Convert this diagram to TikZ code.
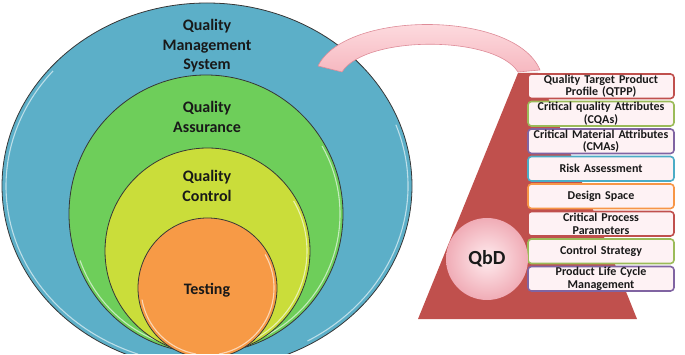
\documentclass[tikz,border=0pt]{standalone}
\usepackage{fontspec}
\setmainfont{Carlito}
\definecolor{qblue}{RGB}{92,175,200}
\definecolor{qgreen}{RGB}{110,206,90}
\definecolor{qyellow}{RGB}{202,221,58}
\definecolor{qorange}{RGB}{247,154,70}
\definecolor{qline}{RGB}{55,55,55}
\definecolor{txt}{RGB}{25,25,25}
\definecolor{qred}{RGB}{192,80,77}
\definecolor{qolive}{RGB}{155,187,89}
\definecolor{qpurple}{RGB}{128,100,162}
\definecolor{qcyan}{RGB}{75,172,198}
\definecolor{qorng}{RGB}{247,150,70}
\definecolor{boxfill}{RGB}{254,242,244}
\definecolor{pinklight}{RGB}{255,228,231}
\definecolor{pinkdark}{RGB}{246,184,192}
\definecolor{pinkedge}{RGB}{222,140,152}
\begin{document}
\begin{tikzpicture}[x=1pt,y=-1pt,
  ring/.style={draw=qline, line width=0.8pt},
  gloss/.style={draw=white, line width=1.1pt, opacity=0.6},
  circtext/.style={font=\bfseries\fontsize{16}{19.5}\selectfont, align=center, text=txt},
  qbox/.style={draw=#1, line width=1.6pt, rounded corners=3.5pt, fill=boxfill,
    minimum width=146pt, minimum height=24.5pt, inner sep=0pt, text width=146pt,
    align=center, text=txt, font=\bfseries\fontsize{12}{12.5}\selectfont}]
\useasboundingbox (0,0) rectangle (685,355);
\begin{scope}
\clip (0,0) rectangle (685,353);
% nested shapes
\fill[qblue, ring] (207,186) ellipse [x radius=205pt, y radius=183pt];
\draw[gloss] (207,186) ++(140:201pt and 179pt) arc[start angle=140, end angle=250, x radius=201pt, y radius=179pt];
\draw[gloss] (207,186) ++(-60:201pt and 179pt) arc[start angle=-60, end angle=20, x radius=201pt, y radius=179pt];
\fill[qgreen, ring] (206,214) ellipse [x radius=137pt, y radius=139pt];
\draw[gloss] (206,214) ++(-75:134pt and 136pt) arc[start angle=-75, end angle=30, x radius=134pt, y radius=136pt];
\draw[gloss] (206,214) ++(200:134pt and 136pt) arc[start angle=200, end angle=250, x radius=134pt, y radius=136pt];
\fill[qyellow, ring] (207.5,251) ellipse [x radius=102.5pt, y radius=103pt];
\draw[gloss] (207.5,251) ++(-75:99.5pt and 100pt) arc[start angle=-75, end angle=30, x radius=99.5pt, y radius=100pt];
\fill[qorange, ring] (207.5,288) ellipse [x radius=69.5pt, y radius=70pt];
\draw[gloss] (207.5,288) ++(-80:66.5pt and 67pt) arc[start angle=-80, end angle=30, x radius=66.5pt, y radius=67pt];
\draw[gloss] (207.5,288) ++(190:66.5pt and 67pt) arc[start angle=190, end angle=260, x radius=66.5pt, y radius=67pt];
\end{scope}
\node[circtext] (qms) at (207,46) {Quality\\Management\\System};
\node[circtext] (qa) at (207,117) {Quality\\Assurance};
\node[circtext] (qc) at (207,186) {Quality\\Control};
\node[circtext] (test) at (207,290) {Testing};
% triangle
\fill[qred] (518,73) -- (538,73) -- (637,319) -- (418,319) -- cycle;
% pink arch
\path[top color=pinklight, bottom color=pinkdark, draw=pinkedge, line width=0.6pt]
  (318,66) .. controls (345,10) and (515,10) .. (540,70) -- (518,72)
  .. controls (495,35) and (365,35) .. (342,72) -- cycle;
% boxes
\node[qbox=qred] (b1) at (601,86.25) {Quality Target Product\\Profile (QTPP)};
\node[qbox=qolive] (b2) at (601,113.75) {Critical quality Attributes\\(CQAs)};
\node[qbox=qpurple] (b3) at (601,141.25) {Critical Material Attributes\\(CMAs)};
\node[qbox=qcyan] (b4) at (601,168.75) {Risk Assessment};
\node[qbox=qorng] (b5) at (601,196.25) {Design Space};
\node[qbox=qred] (b6) at (601,223.75) {Critical Process\\Parameters};
\node[qbox=qolive] (b7) at (601,251.25) {Control Strategy};
\node[qbox=qpurple] (b8) at (601,278.75) {Product Life Cycle\\Management};
% QbD circle
\node[circle, minimum size=82pt, inner sep=0pt, inner color={rgb,255:red,255;green,236;blue,239},
  outer color={rgb,255:red,240;green,172;blue,182}, text=txt,
  font=\bfseries\fontsize{20}{22}\selectfont] (qbd) at (487,259) {QbD};
\end{tikzpicture}
\end{document}
